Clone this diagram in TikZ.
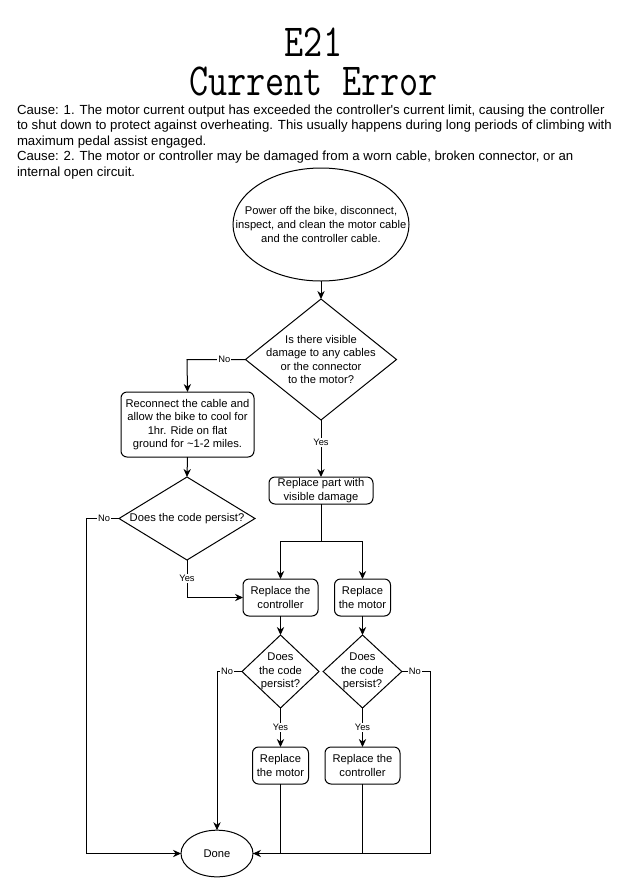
\documentclass[tikz,border=0pt]{standalone}
\usepackage{fontspec}
\setmainfont{Liberation Sans}
\usepackage{graphicx}
\usetikzlibrary{shapes.geometric,arrows.meta}
\begin{document}
\begin{tikzpicture}[x=0.75pt,y=-0.75pt,
  every node/.style={inner sep=0pt, outer sep=0pt},
  nodetext/.style={font=\fontsize{8.4}{10.2}\selectfont},
  proc/.style={draw, rounded corners=4.5pt, align=center, nodetext, line width=0.75pt},
  dec/.style={draw, diamond, align=center, nodetext, line width=0.75pt, inner sep=-40pt},
  term/.style={draw, ellipse, align=center, nodetext, line width=0.75pt, inner sep=-40pt},
  conn/.style={line width=0.75pt, -{Stealth[length=6pt,width=5.5pt]}},
  plain/.style={line width=0.75pt},
  lbl/.style={fill=white, font=\fontsize{7}{8}\selectfont, inner sep=0.8pt},
  titletext/.style={font=\fontsize{34.4}{28.7}\ttfamily, align=center, anchor=base}]
\useasboundingbox (0,0) rectangle (634,883);

% title
\node[titletext] (title) at (313.5,95) {\scalebox{0.81}[1]{E21}\\\scalebox{0.81}[1]{Current Error}};

% causes
\node[anchor=base west, align=left, font=\fontsize{9.9}{11.7}\selectfont] (cause) at (17,176.5)
{Cause: 1. The motor current output has exceeded the controller\textquotesingle s current limit, causing the controller\\
to shut down to protect against overheating. This usually happens during long periods of climbing with\\
maximum pedal assist engaged.\\
Cause: 2. The motor or controller may be damaged from a worn cable, broken connector, or an\\
internal open circuit.};

% nodes
\node[term, minimum width=132pt, minimum height=84.75pt] (start) at (321,224.5)
  {Power off the bike, disconnect,\\inspect, and clean the motor cable\\and the controller cable.};
\node[dec, minimum width=113.25pt, minimum height=90.75pt] (q1) at (321,359.5)
  {Is there visible\\damage to any cables\\or the connector\\to the motor?};
\node[proc, minimum width=99.75pt, minimum height=48.75pt] (cool) at (187.5,424.5)
  {Reconnect the cable and\\allow the bike to cool for\\1hr. Ride on flat\\ground for \textasciitilde1-2 miles.};
\node[dec, minimum width=102pt, minimum height=62.25pt] (q2) at (187,518.5)
  {Does the code persist?};
\node[proc, minimum width=78pt, minimum height=20.25pt] (part) at (321,490.5)
  {Replace part with\\visible damage};
\node[proc, minimum width=56.25pt, minimum height=27.75pt] (ctrlA) at (280.5,597.5)
  {Replace the\\controller};
\node[proc, minimum width=42pt, minimum height=27.75pt] (motA) at (362.5,597.5)
  {Replace\\the motor};
\node[dec, minimum width=57.75pt, minimum height=54.75pt] (q3) at (280.5,671.5)
  {Does\\the code\\persist?};
\node[dec, minimum width=59pt, minimum height=54.75pt] (q4) at (362.5,671.5)
  {Does\\the code\\persist?};
\node[proc, minimum width=42pt, minimum height=27.75pt] (motB) at (280.5,765.5)
  {Replace\\the motor};
\node[proc, minimum width=56.25pt, minimum height=27.75pt] (ctrlB) at (362.5,765.5)
  {Replace the\\controller};
\node[term, minimum width=54pt, minimum height=35pt] (done) at (217,853.5) {Done};

% helper coordinates
\coordinate (nA) at (187,359.5);
\coordinate (nB) at (86,518.5);
\coordinate (split) at (321,541);
\coordinate (nC) at (430.5,671.5);

% connectors
\draw[conn] (start) -- (q1);
\draw[conn] (q1.west) -- node[lbl, pos=0.36]{No} (nA) -- (cool.north);
\draw[conn] (q1.south) -- node[lbl, pos=0.4]{Yes} (part.north);
\draw[conn] (cool.south) -- (q2.north);
\draw[conn] (q2.west) -- node[lbl, pos=0.45]{No} (nB) |- (done.west);
\draw[conn] (q2.south) |- node[lbl, pos=0.25]{Yes} (ctrlA.west);
\draw[plain] (part.south) -- (split);
\draw[conn] (split) -| (ctrlA.north);
\draw[conn] (split) -| (motA.north);
\draw[conn] (ctrlA.south) -- (q3.north);
\draw[conn] (motA.south) -- (q4.north);
\draw[conn] (q3.west) -| node[lbl, pos=0.3]{No} (done.north);
\draw[conn] (q4.east) -- node[lbl, pos=0.45]{No} (nC) |- (done.east);
\draw[conn] (q3.south) -- node[lbl, pos=0.5]{Yes} (motB.north);
\draw[conn] (q4.south) -- node[lbl, pos=0.5]{Yes} (ctrlB.north);
\draw[plain] (motB.south) |- (done.east);
\draw[plain] (ctrlB.south) |- (done.east);
\end{tikzpicture}
\end{document}
